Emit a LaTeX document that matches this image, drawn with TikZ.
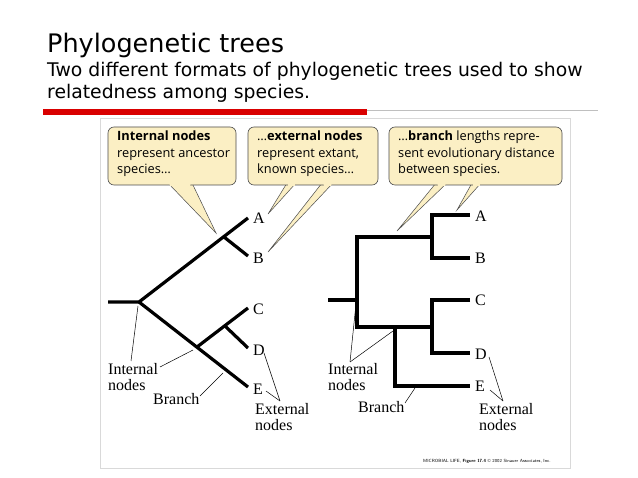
\documentclass[tikz,border=0pt]{standalone}
\usepackage{fontspec}
\setmainfont{Liberation Serif}
\newfontfamily\slidefont{DejaVu Sans}
\newfontfamily\callfont{Open Sans}
\begin{document}
\begin{tikzpicture}[x=1pt,y=-1pt,
  br/.style={line width=3.2pt},
  ptr/.style={line width=0.5pt},
  lbl/.style={font=\fontsize{16}{16}\selectfont,inner sep=0pt,anchor=west},
  two/.style={font=\fontsize{16}{16}\selectfont,inner sep=0pt,anchor=north west,align=left},
  callout/.style={draw=black!70,fill=calloutfill,rounded corners=6pt,line width=0.6pt},
  calltext/.style={font=\callfont\fontsize{12.8}{16.5}\selectfont,inner sep=0pt,anchor=north west,align=left},
  tail/.style={draw=black!70,fill=calloutfill,line width=0.5pt,line join=miter}]
\definecolor{calloutfill}{HTML}{FBEFC4}
\useasboundingbox (0,0) rectangle (638,478);
\fill[white] (0,0) rectangle (638,478);
% slide
\node[font=\slidefont\fontsize{25.5}{26}\selectfont,inner sep=0pt,anchor=west] (title) at (47,45) {Phylogenetic trees};
\node[font=\slidefont\fontsize{18.8}{22}\selectfont,inner sep=0pt,anchor=north west,align=left] (sub) at (47,62) {Two different formats of phylogenetic trees used to show\\relatedness among species.};
\draw[black!25,line width=0.8pt] (43,110) -- (598,110);
\fill[red!85!black] (43,109) rectangle (367,115);
\draw[black!15,line width=0.6pt] (100,118) rectangle (570,468);
% callout tails
\filldraw[tail] (168,183) -- (216,233) -- (192,183);
\filldraw[tail] (287,183) -- (268,214) -- (296,183);
\filldraw[tail] (322,183) -- (268,252) -- (333,183);
\filldraw[tail] (436,183) -- (397,231) -- (447,183);
\filldraw[tail] (472,183) -- (457,210) -- (481,183);
% callout boxes
\draw[callout] (108,127) rectangle (236,185);
\draw[callout] (248,127) rectangle (378,185);
\draw[callout] (389,127) rectangle (562,185);
\fill[calloutfill] (169,182) -- (191,182) -- (190,186) -- (170,186) -- cycle;
\fill[calloutfill] (288,182) -- (295,182) -- (295,186) -- (288,186) -- cycle;
\fill[calloutfill] (323,182) -- (332,182) -- (331,186) -- (324,186) -- cycle;
\fill[calloutfill] (437,182) -- (446,182) -- (445,186) -- (438,186) -- cycle;
\fill[calloutfill] (473,182) -- (480,182) -- (480,186) -- (473,186) -- cycle;
\node[calltext] (c1) at (117,131) {\textbf{Internal nodes}\\represent ancestor\\species\dots};
\node[calltext] (c2) at (257,131) {\dots\textbf{external nodes}\\represent extant,\\known species\dots};
\node[calltext] (c3) at (398,131) {\dots\textbf{branch} lengths repre-\\sent evolutionary distance\\between species.};
% left tree
\coordinate (L0) at (108,302);
\coordinate (Lr) at (139,302);
\coordinate (Lab) at (224,237);
\coordinate (Lcde) at (197,347);
\coordinate (Lcd) at (225,326);
\coordinate (LA) at (248,218);
\coordinate (LB) at (248,256);
\coordinate (LC) at (248,308);
\coordinate (LD) at (248,348);
\coordinate (LE) at (248,387);
\draw[br] (L0) -- (Lr) -- (LA);
\draw[br] (Lab) -- (LB);
\draw[br] (Lr) -- (LE);
\draw[br] (Lcde) -- (LC);
\draw[br] (Lcd) -- (LD);
\node[lbl] (tA) at (253,218) {A};
\node[lbl] (tB) at (253,258) {B};
\node[lbl] (tC) at (253,309) {C};
\node[lbl] (tD) at (253,350) {D};
\node[lbl] (tE) at (253,389) {E};
\node[two] (Lin) at (108,363) {Internal\\nodes};
\node[lbl] (Lbr) at (153,399) {Branch};
\node[two] (Lex) at (255,403) {External\\nodes};
\draw[ptr] (131,361) -- (138,306);
\draw[ptr] (160,367) -- (193,350);
\draw[ptr] (200,396) -- (223,373);
\draw[ptr] (264,353) -- (280,401);
\draw[ptr] (266,391) -- (280,401);
% right tree
\coordinate (R0) at (328,300);
\coordinate (Rv) at (357,300);
\draw[br] (R0) -- (Rv);
\draw[br] (470,215) -- (432,215) -- (432,258) -- (470,258);
\draw[br] (432,237) -- (357,237) -- (357,327) -- (432,327);
\draw[br] (470,300) -- (432,300) -- (432,353) -- (470,353);
\draw[br] (395,327) -- (395,386) -- (470,386);
\node[lbl] (rA) at (475,216) {A};
\node[lbl] (rB) at (475,258) {B};
\node[lbl] (rC) at (475,300) {C};
\node[lbl] (rD) at (475,354) {D};
\node[lbl] (rE) at (475,386) {E};
\node[two] (Rin) at (328,363) {Internal\\nodes};
\node[lbl] (Rbr) at (358,407) {Branch};
\node[two] (Rex) at (479,403) {External\\nodes};
\draw[ptr] (350,362) -- (356,304);
\draw[ptr] (350,362) -- (393,331);
\draw[ptr] (405,403) -- (415,388);
\draw[ptr] (489,357) -- (503,401);
\draw[ptr] (490,390) -- (503,401);
\node[font=\sffamily\fontsize{4.5}{5}\selectfont,inner sep=0pt,anchor=west] (foot) at (423,461) {MICROBIAL LIFE, \textbf{Figure 17.4} \textcopyright\ 2002 Sinauer Associates, Inc.};
\end{tikzpicture}
\end{document}
